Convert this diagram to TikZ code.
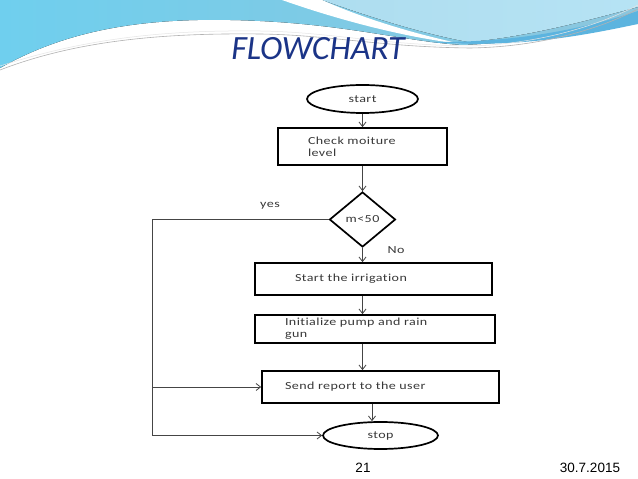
\documentclass[tikz,border=0pt]{standalone}
\usepackage{fontspec}
\setmainfont{Carlito}
\newfontfamily\chartfont[FakeStretch=1.3,LetterSpace=4,Ligatures=NoCommon]{Carlito}
\newfontfamily\footfont{Liberation Sans}
\usetikzlibrary{shapes.geometric, arrows.meta}
\definecolor{titleblue}{HTML}{1B3487}
\definecolor{hdrcyan}{HTML}{6FCFEE}
\definecolor{hdrblue}{HTML}{8CC6DD}
\definecolor{hdrlight}{HTML}{B6E3F4}
\definecolor{hdrband}{HTML}{5CB4DF}
\definecolor{textgray}{HTML}{383838}
\definecolor{linkgray}{HTML}{454545}
\begin{document}
\begin{tikzpicture}[x=1pt, y=1pt, >={Straight Barb[length=4.5pt, width=7pt]},
  box/.style={rectangle, draw=black, line width=1.7pt, align=left, inner ysep=2pt, text=textgray, font={\chartfont\fontsize{10.8}{12}\selectfont}},
  term/.style={ellipse, draw=black, line width=1.7pt, inner sep=0pt, text=textgray, font={\chartfont\fontsize{10.8}{12}\selectfont}},
  test/.style={diamond, draw=black, line width=1.7pt, inner sep=0pt, text=textgray, font={\chartfont\fontsize{10.8}{12}\selectfont}},
  tag/.style={text=textgray, font={\chartfont\fontsize{10.8}{12}\selectfont}},
  link/.style={draw=linkgray, line width=0.8pt}]
\useasboundingbox (0,0) rectangle (638,479);
\fill[white] (0,0) rectangle (638,479);
% header waves
\fill[left color=hdrcyan, right color=hdrblue] (0,479) -- (638,479) -- (638,458) .. controls (580,448) and (520,436) .. (462,434) .. controls (400,438) and (340,457) .. (230,459) .. controls (130,461) and (60,445) .. (0,411) -- cycle;
\fill[left color=hdrlight!80!hdrblue, right color=hdrlight] (322,479) .. controls (370,462) and (420,446) .. (468,437) .. controls (530,442) and (600,462) .. (638,472) -- (638,479) -- cycle;
\fill[white] (282,479) .. controls (330,462) and (400,442) .. (462,435) .. controls (410,446) and (360,462) .. (322,479) -- cycle;
\fill[hdrband] (430,437) .. controls (520,436) and (590,452) .. (638,468) -- (638,455) .. controls (590,445) and (520,430) .. (430,437) -- cycle;
\draw[gray!60, line width=0.6pt] (0,409) .. controls (80,440) and (170,446) .. (260,445) .. controls (330,444) and (380,432) .. (470,431) .. controls (540,432) and (600,450) .. (638,470);
\draw[white!80!gray, line width=0.5pt] (0,413) .. controls (90,442) and (170,449) .. (260,448) .. controls (330,447) and (380,434) .. (470,433) .. controls (540,435) and (600,454) .. (638,474);
% title
\node[text=titleblue, font={\fontsize{34}{40}\selectfont\itshape}] (title) at (318,430) {FLOWCHART};
% flowchart
\node[term, minimum width=111pt, minimum height=28pt] (start) at (362.5,380) {start};
\node[box, text width=109pt, inner xsep=30pt, minimum height=37pt] (check) [below of=start, node distance=47.5pt] {Check moiture\\level};
\node[test, minimum width=66pt, minimum height=55pt] (dec) [below of=check, node distance=73pt] {m<50};
\node[box, text width=157pt, inner xsep=40pt, minimum height=32pt] (irr) [below of=dec, node distance=59.5pt, xshift=11pt] {Start the irrigation};
\node[box, text width=180pt, inner xsep=30pt, minimum height=28pt] (init) [below of=irr, node distance=50pt, xshift=1.5pt] {Initialize pump and rain\\gun};
\node[box, text width=191pt, inner xsep=23pt, minimum height=32pt] (rep) [below of=init, node distance=58pt, xshift=5.5pt] {Send report to the user};
\node[term, minimum width=115pt, minimum height=27pt] (stop) [below of=rep, node distance=48.5pt] {stop};
\coordinate (lft) at (152,0);
\coordinate (stoptop) at ([xshift=-8.5pt]stop.north);
\node[tag] (yes) at (270,273) {yes};
\node[tag] (no) at (396,229) {No};
\draw[link, ->] (start) -- (check);
\draw[link, ->] (check) -- (dec);
\draw[link, ->] (dec.south) -- (dec.south |- irr.north);
\draw[link, ->] (irr.south -| dec) -- (init.north -| dec);
\draw[link, ->] (init.south -| dec) -- (rep.north -| dec);
\draw[link, ->] (rep.south -| stoptop) -- (stoptop);
\draw[link, ->] (dec.west) -- (lft |- dec.west) -- (lft |- stop.west) -- (stop.west);
\draw[link, ->] (lft |- rep.west) -- (rep.west);
% footer
\node[font={\footfont\fontsize{13.5}{16}\selectfont}] (page) at (363,11) {21};
\node[font={\footfont\fontsize{13.5}{16}\selectfont}] (date) at (590,11) {30.7.2015};
\end{tikzpicture}
\end{document}
